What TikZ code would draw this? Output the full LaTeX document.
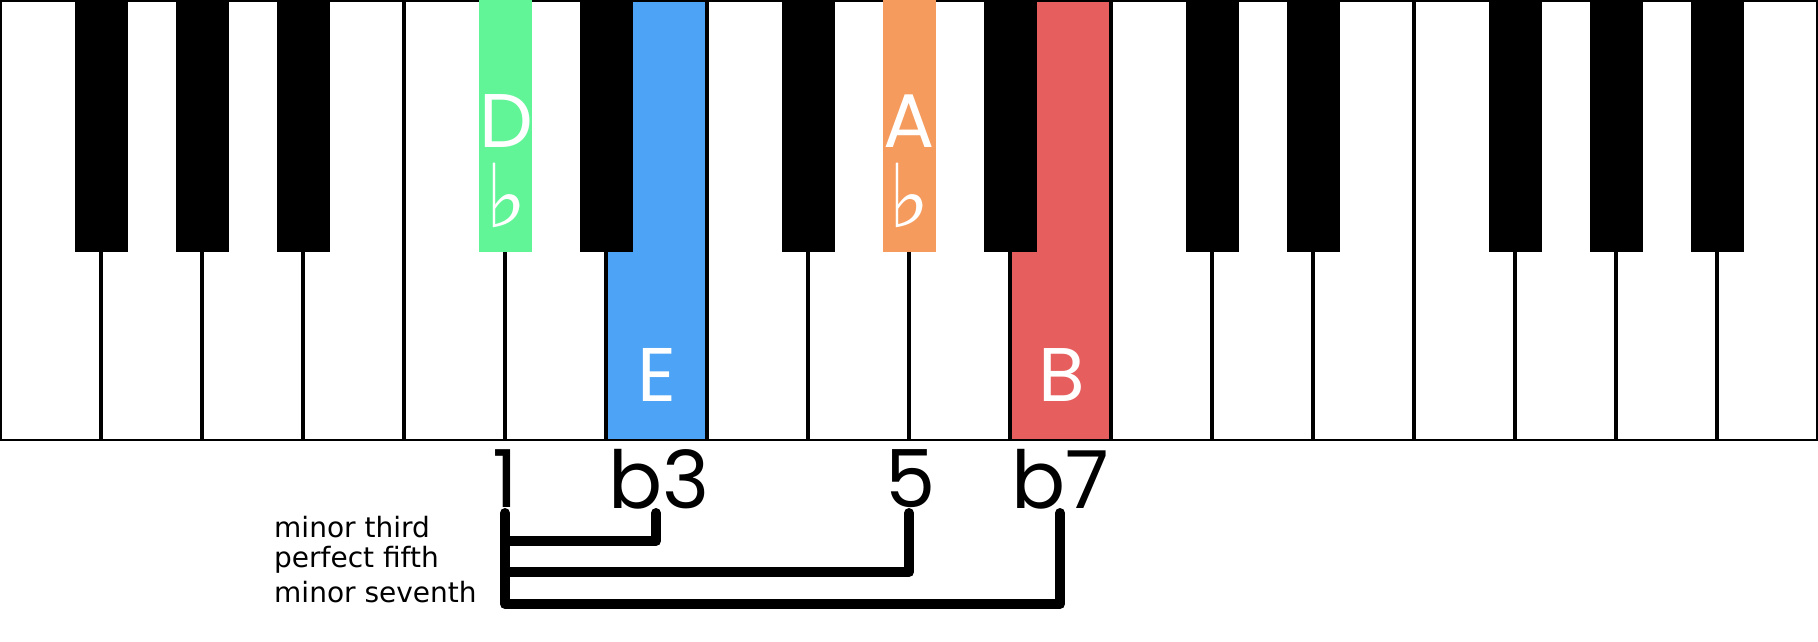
\documentclass[tikz,border=0pt]{standalone}
\usepackage{fontspec}
\setmainfont{DejaVu Sans}
\newfontfamily\bigfont{Poppins}
\definecolor{kgreen}{RGB}{97,245,152}
\definecolor{kblue}{RGB}{77,163,245}
\definecolor{korange}{RGB}{245,155,94}
\definecolor{kred}{RGB}{230,94,94}
\begin{document}
\begin{tikzpicture}[x=1pt,y=-1pt,
  sep/.style={line width=4pt},
  keytxt/.style={text=white,inner sep=0pt,font=\bigfont\fontsize{76}{76}\selectfont},
  flattxt/.style={text=white,inner sep=0pt,anchor=base,text height=50pt,text depth=0pt,font=\fontsize{88}{88}\selectfont},
  deg/.style={inner sep=0pt,font=\bigfont\fontsize{80}{80}\selectfont},
  ivl/.style={inner sep=0pt,anchor=base west,font=\fontsize{28}{28}\selectfont},
  bracket/.style={line width=10pt,line cap=round,line join=round}]
\useasboundingbox (0,0) rectangle (1818,641);
\fill[white] (0,0) rectangle (1818,641);
% highlighted white keys
\fill[kblue] (606,0) rectangle (707,440);
\fill[kred] (1010,0) rectangle (1111,440);
% separators between white keys
\foreach \k in {1,...,17} \draw[sep] (101*\k,0) -- (101*\k,440);
\draw[line width=2pt] (1,1) rectangle (1817,440);
% black keys
\foreach \i in {0,1,2,5,7,9,11,12,14,15,16} {
  \pgfmathsetmacro\bx{101*(\i+1)}
  \fill (\bx-26.5,0) rectangle (\bx+26.5,252);
}
\fill[kgreen] (479,0) rectangle (532,252);
\fill[korange] (883,0) rectangle (936,252);
% key labels
\node[keytxt] (dname) at (506,121) {D};
\node[flattxt] (dflat) at (506,227) {♭};
\node[keytxt] (aname) at (909,121) {A};
\node[flattxt] (aflat) at (909,227) {♭};
\node[keytxt] (ename) at (657,375) {E};
\node[keytxt] (bname) at (1062,375) {B};
% degree labels
\node[deg] (one) at (505,479) {1};
\node[deg] (three) at (659,479) {b3};
\node[deg] (five) at (911,479) {5};
\node[deg] (seven) at (1060,479) {b7};
% interval names
\node[ivl] (mthird) at (274,537) {minor third};
\node[ivl] (pfifth) at (274,567) {perfect fifth};
\node[ivl] (mseventh) at (274,602) {minor seventh};
% brackets
\coordinate (r1) at (505,513);
\coordinate (t3) at (656,513);
\coordinate (t5) at (909,513);
\coordinate (t7) at (1060,513);
\draw[bracket] (r1) -- (505,604) -| (t7);
\draw[bracket] (505,572) -| (t5);
\draw[bracket] (505,541) -| (t3);
\end{tikzpicture}
\end{document}
